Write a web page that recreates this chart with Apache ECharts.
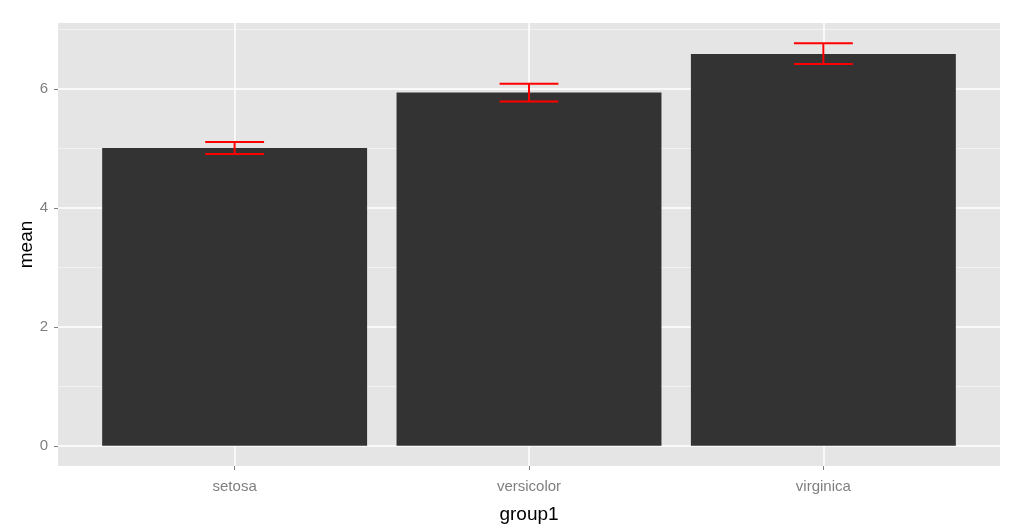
<!DOCTYPE html>
<html><head><meta charset="utf-8">
<script src="https://cdn.jsdelivr.net/npm/echarts@6/dist/echarts.min.js"></script>
<style>html,body{margin:0;padding:0;background:#fff}#c{width:1024px;height:528px}</style>
</head><body><div id="c"></div>
<script>
const categories = ['setosa', 'versicolor', 'virginica'];
const means = [5.006, 5.94, 6.59];
const lower = [4.906, 5.79, 6.42];
const upper = [5.108, 6.09, 6.768];
const xPositions = [1, 2, 3];
const yMajorTicks = [0, 2, 4, 6];
const yMinorTicks = [1, 3, 5, 7];

const barData = xPositions.map((x, i) => [x, means[i]]);
const errData = xPositions.map((x, i) => [x, lower[i], upper[i]]);

function renderBar(params, api) {
  const x = api.value(0), y = api.value(1);
  const p1 = api.coord([x - 0.45, y]);
  const p2 = api.coord([x + 0.45, 0]);
  return {type: 'rect', shape: {x: p1[0], y: p1[1], width: p2[0] - p1[0], height: p2[1] - p1[1]},
          style: {fill: '#333333'}};
}
function renderErr(params, api) {
  const x = api.value(0), lo = api.value(1), hi = api.value(2);
  const a = api.coord([x, lo]), b = api.coord([x, hi]);
  const l1 = api.coord([x - 0.1, lo]), r1 = api.coord([x + 0.1, lo]);
  const l2 = api.coord([x - 0.1, hi]), r2 = api.coord([x + 0.1, hi]);
  const st = {stroke: '#FF0000', lineWidth: 2};
  return {type: 'group', children: [
    {type: 'line', shape: {x1: a[0], y1: a[1], x2: b[0], y2: b[1]}, style: st},
    {type: 'line', shape: {x1: l1[0], y1: l1[1], x2: r1[0], y2: r1[1]}, style: st},
    {type: 'line', shape: {x1: l2[0], y1: l2[1], x2: r2[0], y2: r2[1]}, style: st}
  ]};
}

const chart = echarts.init(document.getElementById('c'));
const font = 'Liberation Sans, Arial, sans-serif';
chart.setOption({
  animation: false,
  backgroundColor: '#ffffff',
  grid: {left: 58, right: 24, top: 23, bottom: 62, show: true, backgroundColor: '#E5E5E5', borderWidth: 0,
         containLabel: false, outerBoundsMode: 'none'},
  xAxis: {
    type: 'value', min: 0.4, max: 3.6,
    name: 'group1', nameLocation: 'middle', nameGap: 39, nameMoveOverlap: false,
    nameTextStyle: {color: '#000', fontSize: 19, fontFamily: font},
    axisLine: {show: false, onZero: false},
    axisTick: {show: true, length: 4, customValues: xPositions, lineStyle: {color: '#7F7F7F', width: 1}},
    axisLabel: {customValues: xPositions, margin: 13, color: '#7F7F7F', fontSize: 15, fontFamily: font,
      formatter: v => categories[Math.round(v) - 1] || ''},
    splitLine: {show: true, lineStyle: {color: '#FFFFFF', width: 1.5}}
  },
  yAxis: [{
    type: 'value', min: -0.34, max: 7.11,
    name: 'mean', nameLocation: 'middle', nameGap: 22, nameRotate: 90, nameMoveOverlap: false,
    nameTextStyle: {color: '#000', fontSize: 19, fontFamily: font},
    axisLine: {show: false, onZero: false},
    axisTick: {show: true, length: 4, customValues: yMajorTicks, lineStyle: {color: '#7F7F7F', width: 1}},
    axisLabel: {customValues: yMajorTicks, margin: 10, color: '#7F7F7F', fontSize: 15, fontFamily: font},
    splitLine: {show: true, lineStyle: {color: '#FFFFFF', width: 1.5}}
  }, {
    type: 'value', min: -0.34, max: 7.11, position: 'left',
    axisLine: {show: false, onZero: false},
    axisTick: {show: false, customValues: yMinorTicks},
    axisLabel: {show: false, customValues: yMinorTicks},
    splitLine: {show: true, lineStyle: {color: '#F2F2F2', width: 1}}
  }],
  series: [
    {type: 'custom', renderItem: renderBar, data: barData, z: 2, encode: {x: 0, y: 1}},
    {type: 'custom', renderItem: renderErr, data: errData, z: 3, encode: {x: 0, y: [1, 2]}}
  ]
});
</script>
</body></html>
